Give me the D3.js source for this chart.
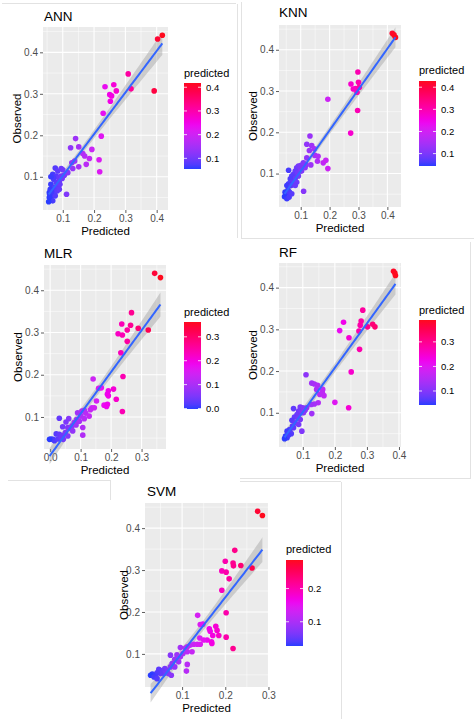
<!DOCTYPE html>
<html>
<head>
<meta charset="utf-8">
<script src="https://cdn.jsdelivr.net/npm/d3@7"></script>
<style>
  html, body { margin: 0; padding: 0; background: #ffffff; }
  svg { display: block; font-family: "Liberation Sans", Arial, sans-serif; }
</style>
</head>
<body>
<svg id="chart" width="474" height="719"></svg>
<script>
// ---------------- DATA ----------------
const modelNames = ["ANN", "KNN", "MLR", "RF", "SVM"];

const annPredicted = [0.418,0.403,0.392,0.309,0.318,0.235,0.263,0.271,0.250,0.256,0.252,0.229,0.223,0.141,0.125,0.151,0.193,0.164,0.170,0.138,0.185,0.175,0.216,0.151,0.218,0.112,
  0.076,0.084,0.095,0.100,0.068,0.079,0.087,0.095,0.071,0.079,0.089,0.098,0.105,0.062,0.073,0.084,0.091,0.057,0.066,0.073,0.082,0.089,0.062,0.068,0.057,0.076,0.116,0.132,0.129,0.055,0.060,0.058,0.064,0.070,0.062];
const annObserved = [0.441,0.432,0.307,0.348,0.312,0.317,0.322,0.307,0.298,0.295,0.282,0.253,0.198,0.192,0.170,0.172,0.166,0.156,0.150,0.138,0.144,0.130,0.141,0.124,0.112,0.058,
  0.121,0.114,0.120,0.117,0.106,0.102,0.098,0.102,0.094,0.086,0.090,0.096,0.104,0.082,0.074,0.078,0.082,0.062,0.054,0.062,0.066,0.070,0.046,0.042,0.050,0.054,0.110,0.120,0.134,0.040,0.070,0.058,0.064,0.098,0.100];

const knnPredicted = [0.417,0.423,0.428,0.298,0.274,0.300,0.290,0.303,0.295,0.282,0.297,0.273,0.194,0.132,0.121,0.138,0.147,0.130,0.149,0.160,0.158,0.178,0.187,0.194,0.118,0.135,0.121,0.110,0.058,
  0.086,0.092,0.101,0.098,0.081,0.075,0.090,0.103,0.069,0.081,0.092,0.064,0.071,0.086,0.058,0.052,0.067,0.081,0.056,0.046,0.052,0.061,0.044,0.052,0.060,0.069,0.109,0.115];
const knnObserved = [0.440,0.436,0.430,0.346,0.317,0.321,0.306,0.309,0.297,0.305,0.253,0.198,0.280,0.191,0.171,0.168,0.160,0.156,0.144,0.142,0.130,0.126,0.132,0.112,0.121,0.121,0.138,0.057,0.108,
  0.114,0.118,0.120,0.112,0.106,0.098,0.102,0.106,0.094,0.088,0.094,0.087,0.079,0.079,0.075,0.071,0.071,0.071,0.060,0.055,0.048,0.055,0.044,0.039,0.043,0.051,0.126,0.114];

const mlrPredicted = [0.343,0.362,0.267,0.235,0.223,0.237,0.253,0.264,0.289,0.322,0.253,0.232,0.239,0.141,0.159,0.168,0.191,0.188,0.191,0.208,0.217,0.177,0.185,0.188,0.237,0.152,0.137,0.145,0.132,0.107,0.107,
  0.090,0.104,0.112,0.117,0.128,0.101,0.087,0.096,0.112,0.079,0.072,0.085,0.030,0.061,0.052,0.041,0.058,0.068,0.020,0.030,0.039,0.050,0.003,0.009,0.014,0.025,0.036,-0.002,0.043,0.058,0.074];
const mlrObserved = [0.440,0.430,0.347,0.320,0.297,0.294,0.306,0.317,0.310,0.306,0.279,0.252,0.196,0.190,0.168,0.169,0.162,0.154,0.150,0.166,0.142,0.128,0.125,0.130,0.113,0.138,0.122,0.122,0.117,0.057,0.075,
  0.110,0.114,0.116,0.109,0.102,0.102,0.094,0.090,0.096,0.087,0.079,0.081,0.097,0.096,0.088,0.077,0.075,0.073,0.060,0.059,0.056,0.063,0.048,0.047,0.044,0.048,0.051,0.047,0.047,0.055,0.067];

const rfPredicted = [0.383,0.387,0.389,0.287,0.282,0.279,0.302,0.318,0.325,0.227,0.215,0.244,0.275,0.277,0.251,0.243,0.200,0.110,0.128,0.136,0.146,0.143,0.162,0.153,0.166,0.161,0.148,0.136,0.126,0.112,0.128,0.097,0.071,
  0.092,0.100,0.107,0.087,0.095,0.082,0.074,0.085,0.092,0.066,0.076,0.087,0.068,0.059,0.051,0.056,0.064,0.046,0.051,0.043,0.056,0.071,0.102];
const rfObserved = [0.439,0.435,0.429,0.346,0.320,0.310,0.306,0.312,0.306,0.317,0.297,0.280,0.296,0.252,0.198,0.112,0.125,0.191,0.171,0.169,0.166,0.156,0.156,0.144,0.141,0.148,0.124,0.121,0.120,0.112,0.098,0.056,0.110,
  0.114,0.112,0.106,0.104,0.100,0.096,0.090,0.088,0.084,0.082,0.076,0.072,0.068,0.060,0.056,0.052,0.050,0.044,0.040,0.038,0.047,0.064,0.100];

const svmPredicted = [0.275,0.286,0.222,0.200,0.218,0.219,0.236,0.262,0.192,0.202,0.209,0.192,0.202,0.136,0.142,0.148,0.163,0.165,0.178,0.181,0.171,0.185,0.202,0.158,0.168,0.169,0.141,0.218,
  0.127,0.135,0.142,0.119,0.112,0.150,0.108,0.096,0.112,0.123,0.102,0.088,0.073,0.096,0.083,0.092,0.077,0.112,0.110,0.065,0.060,0.054,0.046,0.058,0.050,0.042,0.038,0.031,0.027,0.035,0.042,0.073,0.083,0.068,0.075];
const svmObserved = [0.440,0.430,0.347,0.321,0.317,0.310,0.311,0.305,0.298,0.295,0.279,0.252,0.198,0.192,0.170,0.171,0.160,0.154,0.166,0.156,0.144,0.144,0.140,0.133,0.129,0.125,0.138,0.113,
  0.123,0.123,0.123,0.121,0.117,0.133,0.114,0.115,0.105,0.105,0.101,0.098,0.097,0.093,0.087,0.081,0.077,0.075,0.059,0.061,0.065,0.060,0.063,0.053,0.053,0.055,0.049,0.052,0.049,0.045,0.041,0.069,0.069,0.053,0.049];

const yTickValues = [0.1, 0.2, 0.3, 0.4];
const xTickValues = {
  ANN: [0.1, 0.2, 0.3, 0.4],
  KNN: [0.1, 0.2, 0.3, 0.4],
  MLR: [0.0, 0.1, 0.2, 0.3],
  RF:  [0.1, 0.2, 0.3, 0.4],
  SVM: [0.1, 0.2, 0.3]
};
const legendTickValues = {
  ANN: [0.1, 0.2, 0.3, 0.4],
  KNN: [0.1, 0.2, 0.3, 0.4],
  MLR: [0.0, 0.1, 0.2, 0.3],
  RF:  [0.1, 0.2, 0.3],
  SVM: [0.1, 0.2]
};
const xAxisTitle = "Predicted";
const yAxisTitle = "Observed";
const legendTitle = "predicted";

// ---------------- LAYOUT ----------------
const layout = {
  ANN: { x0: 43,  x1: 168, y0: 27,  y1: 210, tx: 44,  ty: 21,  lx: 184, lty: 77,  b0: 83,  b1: 169, ox: 21 },
  KNN: { x0: 279, x1: 401, y0: 25,  y1: 207, tx: 279, ty: 17,  lx: 419, lty: 74,  b0: 81,  b1: 166, ox: 257 },
  MLR: { x0: 44,  x1: 166, y0: 265, y1: 449, tx: 44,  ty: 258, lx: 184, lty: 316, b0: 322, b1: 409, ox: 22 },
  RF:  { x0: 279, x1: 401, y0: 263, y1: 447, tx: 279, ty: 257, lx: 419, lty: 314, b0: 320, b1: 405, ox: 257 },
  SVM: { x0: 145, x1: 268, y0: 503, y1: 687, tx: 147, ty: 496, lx: 286, lty: 553, b0: 560, b1: 646, ox: 128 }
};

const seriesData = {
  ANN: [annPredicted, annObserved],
  KNN: [knnPredicted, knnObserved],
  MLR: [mlrPredicted, mlrObserved],
  RF:  [rfPredicted, rfObserved],
  SVM: [svmPredicted, svmObserved]
};

const svg = d3.select("#chart");

// faint collage frame lines
const frame = svg.append("g").attr("stroke", "#e2e2e2").attr("stroke-width", 1).attr("fill", "none");
[[2, 3.5, 236, 3.5], [237.5, 4, 237.5, 238], [241.5, 2, 241.5, 238], [241, 238.5, 474, 238.5],
 [8, 480.5, 110, 480.5], [110.5, 480, 110.5, 500], [240, 478.5, 471, 478.5], [470.5, 242, 470.5, 478],
 [240, 481.5, 341, 481.5], [341.5, 482, 341.5, 719]].forEach(l => {
  frame.append("line").attr("x1", l[0]).attr("y1", l[1]).attr("x2", l[2]).attr("y2", l[3]);
});

const fmt = d3.format(".1f");

function expandDomain(ext) {
  const pad = (ext[1] - ext[0]) * 0.05;
  return [ext[0] - pad, ext[1] + pad];
}

modelNames.forEach(name => {
  const L = layout[name];
  const [pred, obs] = seriesData[name];
  const pts = pred.map((p, i) => ({ p: p, o: obs[i] }));

  const x = d3.scaleLinear().domain(expandDomain(d3.extent(pred))).range([L.x0, L.x1]);
  const y = d3.scaleLinear().domain(expandDomain(d3.extent(obs))).range([L.y1, L.y0]);
  const pExt = d3.extent(pred);
  const color = d3.scaleLinear()
    .domain([pExt[0], pExt[0] + (pExt[1] - pExt[0]) * 0.52, pExt[1]])
    .range(["#2a3cff", "#f000f0", "#ff0a1e"])
    .interpolate(d3.interpolateLab);

  const g = svg.append("g");

  // panel background
  g.append("rect").attr("x", L.x0).attr("y", L.y0)
    .attr("width", L.x1 - L.x0).attr("height", L.y1 - L.y0).attr("fill", "#ebebeb");

  // minor grid
  const xd = x.domain(), yd = y.domain();
  const minorX = d3.range(-0.15, 0.6, 0.1).map(v => +v.toFixed(2)).filter(v => v > xd[0] && v < xd[1]);
  const minorY = d3.range(-0.15, 0.6, 0.1).map(v => +v.toFixed(2)).filter(v => v > yd[0] && v < yd[1]);
  minorX.forEach(v => g.append("line").attr("x1", x(v)).attr("x2", x(v)).attr("y1", L.y0).attr("y2", L.y1)
    .attr("stroke", "#fff").attr("stroke-width", 0.5));
  minorY.forEach(v => g.append("line").attr("y1", y(v)).attr("y2", y(v)).attr("x1", L.x0).attr("x2", L.x1)
    .attr("stroke", "#fff").attr("stroke-width", 0.5));
  // major grid
  xTickValues[name].forEach(v => g.append("line").attr("x1", x(v)).attr("x2", x(v)).attr("y1", L.y0).attr("y2", L.y1)
    .attr("stroke", "#fff").attr("stroke-width", 1.1));
  yTickValues.forEach(v => g.append("line").attr("y1", y(v)).attr("y2", y(v)).attr("x1", L.x0).attr("x2", L.x1)
    .attr("stroke", "#fff").attr("stroke-width", 1.1));

  // axes
  const xAxis = d3.axisBottom(x).tickValues(xTickValues[name]).tickFormat(fmt).tickSize(3).tickPadding(2);
  const yAxis = d3.axisLeft(y).tickValues(yTickValues).tickFormat(fmt).tickSize(3).tickPadding(2);
  const gx = g.append("g").attr("transform", `translate(0,${L.y1})`).call(xAxis);
  const gy = g.append("g").attr("transform", `translate(${L.x0},0)`).call(yAxis);
  [gx, gy].forEach(a => {
    a.select(".domain").remove();
    a.selectAll(".tick line").attr("stroke", "#333333").attr("stroke-width", 0.8);
    a.selectAll(".tick text").attr("fill", "#4d4d4d").attr("font-size", 10)
      .attr("font-family", "Liberation Sans, Arial, sans-serif");
  });

  // regression (lm) with 95% confidence band
  const n = pts.length;
  const mx = d3.mean(pred), my = d3.mean(obs);
  let sxx = 0, sxy = 0;
  pts.forEach(d => { sxx += (d.p - mx) ** 2; sxy += (d.p - mx) * (d.o - my); });
  const b = sxy / sxx, a0 = my - b * mx;
  let sse = 0;
  pts.forEach(d => { sse += (d.o - (a0 + b * d.p)) ** 2; });
  const s = Math.sqrt(sse / (n - 2));
  const tcrit = 1.999;
  const xs = d3.range(0, 81).map(i => pExt[0] + (pExt[1] - pExt[0]) * i / 80);
  const band = xs.map(v => {
    const fit = a0 + b * v;
    const se = s * Math.sqrt(1 / n + (v - mx) ** 2 / sxx);
    return { x: v, fit: fit, lo: fit - tcrit * se, hi: fit + tcrit * se };
  });
  g.append("path").datum(band)
    .attr("d", d3.area().x(d => x(d.x)).y0(d => y(d.lo)).y1(d => y(d.hi)))
    .attr("fill", "#999999").attr("fill-opacity", 0.4);

  // points
  g.append("g").selectAll("circle").data(pts).join("circle")
    .attr("cx", d => x(d.p)).attr("cy", d => y(d.o)).attr("r", 2.8)
    .attr("fill", d => color(d.p));

  // fitted line on top
  g.append("path").datum(band)
    .attr("d", d3.line().x(d => x(d.x)).y(d => y(d.fit)))
    .attr("fill", "none").attr("stroke", "#3366ff").attr("stroke-width", 2);

  // titles
  g.append("text").attr("x", L.tx).attr("y", L.ty).text(name)
    .attr("font-size", 13.5).attr("fill", "#000");
  g.append("text").attr("x", (L.x0 + L.x1) / 2).attr("y", L.y1 + 25).text(xAxisTitle)
    .attr("text-anchor", "middle").attr("font-size", 11.5).attr("fill", "#000");
  g.append("text").attr("transform", `translate(${L.ox},${(L.y0 + L.y1) / 2}) rotate(-90)`).text(yAxisTitle)
    .attr("text-anchor", "middle").attr("font-size", 11.5).attr("fill", "#000");

  // legend colorbar
  const gradId = "grad-" + name;
  const grad = svg.append("defs").append("linearGradient").attr("id", gradId)
    .attr("x1", 0).attr("y1", 1).attr("x2", 0).attr("y2", 0);
  d3.range(0, 21).forEach(i => {
    const v = pExt[0] + (pExt[1] - pExt[0]) * i / 20;
    grad.append("stop").attr("offset", (i / 20 * 100) + "%").attr("stop-color", color(v));
  });
  const barW = 17;
  g.append("text").attr("x", L.lx).attr("y", L.lty).text(legendTitle)
    .attr("font-size", 11).attr("fill", "#000");
  g.append("rect").attr("x", L.lx).attr("y", L.b0).attr("width", barW).attr("height", L.b1 - L.b0)
    .attr("fill", `url(#${gradId})`);
  const ly = d3.scaleLinear().domain(pExt).range([L.b1, L.b0]);
  legendTickValues[name].forEach(v => {
    const yy = ly(v);
    g.append("line").attr("x1", L.lx).attr("x2", L.lx + 3).attr("y1", yy).attr("y2", yy)
      .attr("stroke", "#fff").attr("stroke-width", 0.8);
    g.append("line").attr("x1", L.lx + barW - 3).attr("x2", L.lx + barW).attr("y1", yy).attr("y2", yy)
      .attr("stroke", "#fff").attr("stroke-width", 0.8);
    g.append("text").attr("x", L.lx + barW + 5).attr("y", yy).attr("dy", "0.35em").text(fmt(v))
      .attr("font-size", 9.5).attr("fill", "#000");
  });
});
</script>
</body>
</html>
